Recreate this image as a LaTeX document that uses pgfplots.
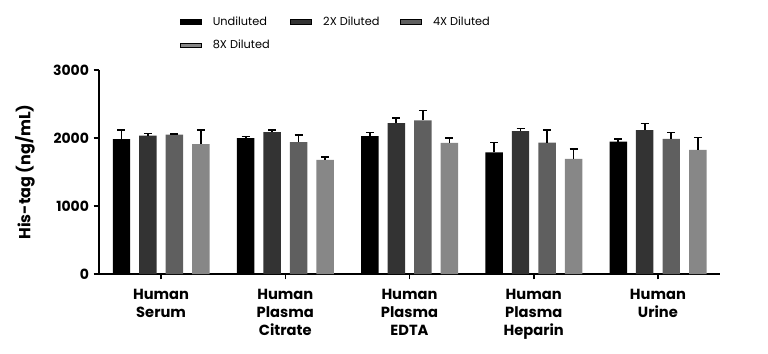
\documentclass[border=0pt]{standalone}
\usepackage{pgfplots}
\pgfplotsset{compat=1.18}
\usepackage{fontspec}
\setmainfont{Poppins}
\definecolor{cA}{HTML}{000000}
\definecolor{cB}{HTML}{333333}
\definecolor{cC}{HTML}{5F5F5F}
\definecolor{cD}{HTML}{878787}
\pgfplotsset{errplot/.style={forget plot, draw=none, no markers,
  error bars/y dir=plus, error bars/y explicit,
  error bars/error bar style={line width=1.3pt, draw=black},
  error bars/error mark options={line width=1.3pt, draw=black, mark size=3pt, rotate=90}}}
\begin{document}
\begin{tikzpicture}
\begin{axis}[
  name=ax,
  scale only axis,
  width=465.75pt, height=153pt,
  xmin=-0.5, xmax=4.5,
  ymin=0, ymax=3000,
  axis x line*=bottom,
  axis y line*=left,
  axis line style={line width=1.5pt},
  ytick={0,1000,2000,3000},
  xtick={0,1,2,3,4},
  xticklabels={{Human\\Serum},{Human\\Plasma\\Citrate},{Human\\Plasma\\EDTA},{Human\\Plasma\\Heparin},{Human\\Urine}},
  x tick label style={align=center, font=\fontsize{11}{13.7}\selectfont\bfseries, yshift=-3.5pt},
  y tick label style={font=\fontsize{10.5}{12}\selectfont\bfseries},
  /pgf/number format/assume math mode=true,
  /pgf/number format/1000 sep={},
  tick style={line width=1.2pt, black},
  tick align=outside,
  major tick length=4pt,
  ylabel={His-tag (ng/mL)},
  every axis y label/.style={at={(axis description cs:-0.1192,0.5)}, rotate=90, anchor=center,
    font=\fontsize{12}{14}\selectfont\bfseries},
  legend columns=3,
  legend style={draw=none, at={(0.1235,1.29)}, anchor=north west,
    font=\fontsize{8.5}{10}\selectfont, row sep=5.5pt,
    /tikz/every odd column/.append style={column sep=6.5pt},
    /tikz/every even column/.append style={column sep=13.5pt}},
  legend cell align=left,
  legend image code/.code={\fill[#1] (0pt,-1.6pt) rectangle (15.75pt,1.6pt);},
]
\addlegendimage{fill=cA}
\addlegendimage{fill=cB}
\addlegendimage{fill=cC}
\addlegendimage{empty legend}
\addlegendimage{fill=cD}
\legend{Undiluted,2X Diluted,4X Diluted,,8X Diluted}

% bars
\addplot[ybar, bar width=13.1pt, bar shift=-29.7pt, fill=cA, draw=none, forget plot]
  coordinates {(0,1982) (1,1997) (2,2026) (3,1787) (4,1948)};
\addplot[ybar, bar width=13.1pt, bar shift=-9.9pt, fill=cB, draw=none, forget plot]
  coordinates {(0,2036) (1,2085) (2,2217) (3,2100) (4,2115)};
\addplot[ybar, bar width=13.1pt, bar shift=10pt, fill=cC, draw=none, forget plot]
  coordinates {(0,2051) (1,1938) (2,2261) (3,1933) (4,1987)};
\addplot[ybar, bar width=13.1pt, bar shift=29.9pt, fill=cD, draw=none, forget plot]
  coordinates {(0,1909) (1,1679) (2,1929) (3,1694) (4,1826)};
% error bars (upper only), at the bar centres
\addplot[errplot] coordinates {(-0.319,1982) +- (0,137) (0.681,1997) +- (0,25) (1.681,2026) +- (0,54) (2.681,1787) +- (0,146) (3.681,1948) +- (0,39)};
\addplot[errplot] coordinates {(-0.106,2036) +- (0,30) (0.894,2085) +- (0,34) (1.894,2217) +- (0,74) (2.894,2100) +- (0,39) (3.894,2115) +- (0,97)};
\addplot[errplot] coordinates {(0.107,2051) +- (0,10) (1.107,1938) +- (0,108) (2.107,2261) +- (0,142) (3.107,1933) +- (0,186) (4.107,1987) +- (0,93)};
\addplot[errplot] coordinates {(0.321,1909) +- (0,210) (1.321,1679) +- (0,44) (2.321,1929) +- (0,73) (3.321,1694) +- (0,142) (4.321,1826) +- (0,181)};
\end{axis}
\pgfresetboundingbox
\path ([shift={(-74.25pt,-59.25pt)}]ax.south west) rectangle ([shift={(36pt,52.5pt)}]ax.north east);
\end{tikzpicture}
\end{document}
